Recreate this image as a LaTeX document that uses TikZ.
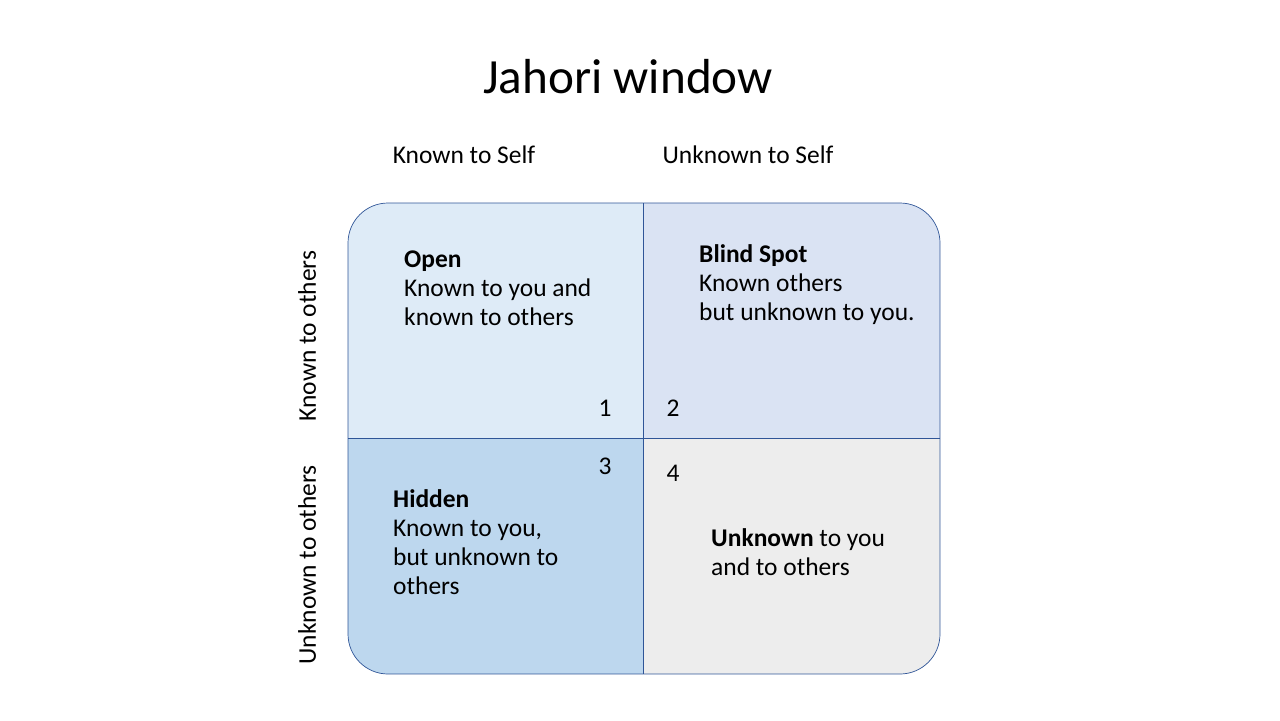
\documentclass[tikz,border=0pt]{standalone}
\usepackage{fontspec}
\setmainfont{Carlito}
\definecolor{openfill}{HTML}{DEEBF7}
\definecolor{blindfill}{HTML}{DAE3F3}
\definecolor{hiddenfill}{HTML}{BDD7EE}
\definecolor{unknownfill}{HTML}{EDEDED}
\definecolor{edge}{HTML}{2F5597}
\tikzset{
  quadtext/.style={anchor=north west, align=left, font=\fontsize{14.5}{16.5}\selectfont},
  num/.style={font=\fontsize{14.5}{16.5}\selectfont},
  head/.style={font=\fontsize{14.5}{16.5}\selectfont}
}
\begin{document}
\begin{tikzpicture}[x=0.02cm, y=-0.02cm]
  \useasboundingbox (0,0) rectangle (1280,720);
  \node[font=\fontsize{28}{32}\selectfont] (title) at (628,77) {Jahori window};
  % column and row heads
  \node[head] (ks) at (464,155) {Known to Self};
  \node[head] (us) at (748,155) {Unknown to Self};
  \node[head, rotate=90] (ko) at (307,336) {Known to others};
  \node[head, rotate=90] (uo) at (307,565) {Unknown to others};
  % quadrants
  \begin{scope}
    \clip[rounded corners=0.8cm] (348,203) rectangle (940,674);
    \fill[openfill] (348,203) rectangle (643,438);
    \fill[blindfill] (643,203) rectangle (940,438);
    \fill[hiddenfill] (348,438) rectangle (643,674);
    \fill[unknownfill] (643,438) rectangle (940,674);
  \end{scope}
  \draw[edge, rounded corners=0.8cm] (348,203) rectangle (940,674);
  \draw[edge] (643,203) -- (643,674);
  \draw[edge] (348,438) -- (940,438);
  % texts
  \node[quadtext] (open) at (398,245) {\textbf{Open}\\Known to you and\\known to others};
  \node[quadtext] (blind) at (693,238) {\textbf{Blind Spot}\\Known others\\but unknown to you.};
  \node[quadtext] (hidden) at (387,483) {\textbf{Hidden}\\Known to you,\\but unknown to\\others};
  \node[quadtext] (unknown) at (705,522) {\textbf{Unknown} to you\\and to others};
  \node[num] (n1) at (605,408) {1};
  \node[num] (n2) at (673,408) {2};
  \node[num] (n3) at (605,466) {3};
  \node[num] (n4) at (673,473) {4};
\end{tikzpicture}
\end{document}
